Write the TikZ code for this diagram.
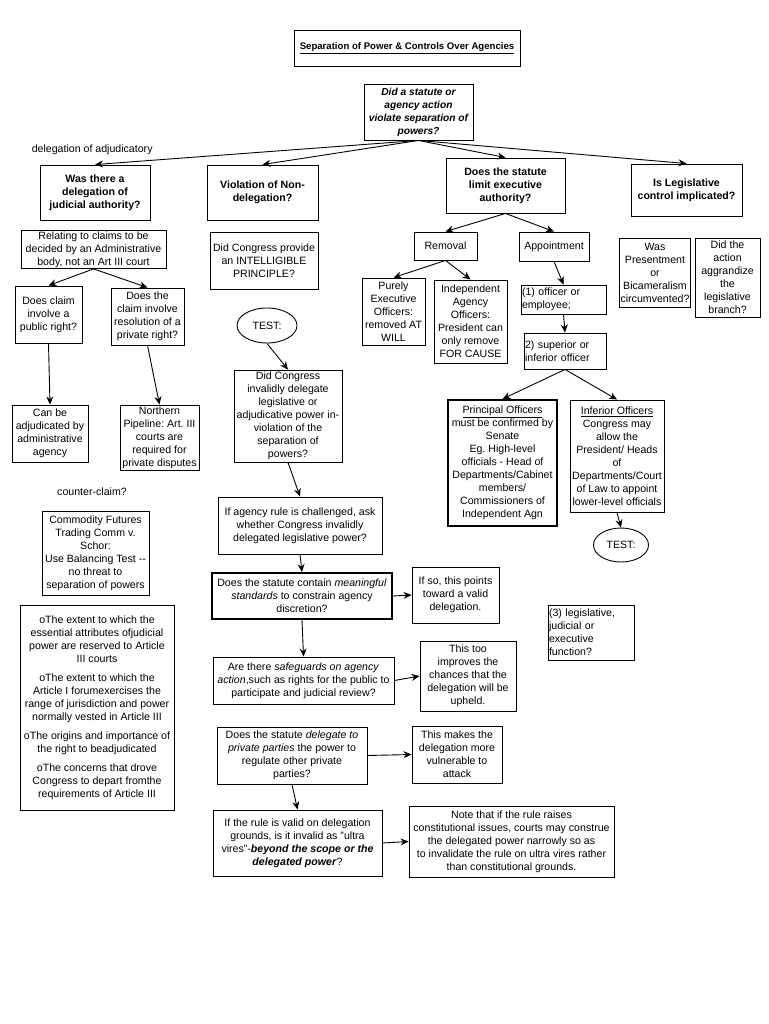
\documentclass[tikz,border=0pt]{standalone}
\usepackage{fontspec}
\setmainfont{Liberation Sans}
\usetikzlibrary{arrows.meta,shapes.geometric}
\frenchspacing
\begin{document}
\begin{tikzpicture}[x=1pt, y=-1pt, line width=0.9pt, >={Stealth[length=8pt,width=7pt]},
    every node/.style={font=\fontsize{10.6}{13}\selectfont},
    box/.style={draw, align=center, inner sep=1pt},
    lbox/.style={draw, align=left, inner sep=1pt},
    thickbox/.style={box, line width=2pt}]
    \fill[white] (0,0) rectangle (768,1024);
    \useasboundingbox (0,0) rectangle (768,1024);

    % 表題と最初の問い
    \node[box, minimum width=226pt, minimum height=36pt, font=\fontsize{9.6}{11}\selectfont\bfseries] (title) at (407,48) {\underline{Separation of Power \& Controls Over Agencies}};
    \node[box, minimum width=109pt, minimum height=56pt, font=\fontsize{10.2}{13}\selectfont\bfseries\itshape] (root) at (418.5,112) {Did a statute or\\agency action\\violate separation of\\powers?};
    \node[anchor=west] (adjtext) at (28,150) {delegation of adjudicatory};

    % 四つの問い
    \node[box, minimum width=110pt, minimum height=55pt, font=\fontsize{10.6}{13}\selectfont\bfseries] (qA) at (95,192.5) {Was there a\\delegation of\\judicial authority?};
    \node[box, minimum width=111pt, minimum height=55pt, font=\fontsize{10.6}{13}\selectfont\bfseries] (qB) at (262.5,192.5) {Violation of Non-\\delegation?};
    \node[box, minimum width=119pt, minimum height=55pt, font=\fontsize{10.6}{13}\selectfont\bfseries] (qC) at (505.5,185.5) {Does the statute\\limit executive\\authority?};
    \node[box, minimum width=111pt, minimum height=52pt, font=\fontsize{10.6}{13}\selectfont\bfseries] (qD) at (686.5,190) {Is Legislative\\control implicated?};

    \draw[->] (root.south) -- (qA.north);
    \draw[->] (root.south) -- (qB.north);
    \draw[->] (root.south) -- (qC.north);
    \draw[->] (root.south) -- (qD.north);

    % 司法権の委任
    \node[box, minimum width=145pt, minimum height=37pt] (relating) at (93.5,249.5) {Relating to claims to be\\decided by an Administrative\\body, not an Art III court};
    \node[box, minimum width=67pt, minimum height=57pt] (pubright) at (48.5,314.5) {Does claim\\involve a\\public right?};
    \node[box, minimum width=73pt, minimum height=57pt] (privright) at (147.5,316.5) {Does the\\claim involve\\resolution of a\\private right?};
    \node[box, minimum width=76pt, minimum height=57pt] (adjud) at (50,433.5) {Can be\\adjudicated by\\administrative\\agency};
    \node[box, minimum width=79pt, minimum height=65pt] (northern) at (159.5,437.5) {Northern\\Pipeline: Art. III\\courts are\\required for\\private disputes};
    \node (counter) at (92,492) {counter-claim?};
    \node[box, minimum width=107pt, minimum height=84pt] (schor) at (95.5,553) {Commodity Futures\\Trading Comm v.\\Schor:\\Use Balancing Test -{}-\\no threat to\\separation of powers};
    \node[box, minimum width=154pt, minimum height=205pt] (factors) at (97,707.5) {oThe extent to which the\\essential attributes ofjudicial\\power are reserved to Article\\III courts\\[6pt]oThe extent to which the\\Article I forumexercises the\\range of jurisdiction and power\\normally vested in Article III\\[6pt]oThe origins and importance of\\the right to beadjudicated\\[6pt]oThe concerns that drove\\Congress to depart fromthe\\requirements of Article III};

    \draw[->] (relating.south) -- (pubright.north);
    \draw[->] (relating.south) -- (privright.north);
    \draw[->] (pubright.south) -- (adjud.north);
    \draw[->] (privright.south) -- (northern.north);

    % 委任禁止の法理
    \node[box, minimum width=108pt, minimum height=57pt] (intell) at (264,260.5) {Did Congress provide\\an INTELLIGIBLE\\PRINCIPLE?};
    \node[draw, ellipse, minimum width=60pt, minimum height=35pt, inner sep=0pt] (testA) at (267,325.5) {TEST:};
    \node[box, minimum width=108pt, minimum height=92pt] (invalid) at (288,416) {Did Congress\\invalidly delegate\\legislative or\\adjudicative power in-\\violation of the\\separation of\\powers?};
    \node[box, minimum width=164pt, minimum height=57pt] (challenged) at (300,525.5) {If agency rule is challenged, ask\\whether Congress invalidly\\delegated legislative power?};
    \node[thickbox, minimum width=180pt, minimum height=46pt] (meaningful) at (302,596) {Does the statute contain \textit{meaningful}\\\textit{standards} to constrain agency\\discretion?};
    \node[box, minimum width=87pt, minimum height=56pt] (valid) at (455.5,595) {If so, this points\\toward a valid\\delegation.};
    \node[box, minimum width=181pt, minimum height=47pt] (safeguards) at (303.5,680.5) {Are there \textit{safeguards on agency}\\\textit{action},such as rights for the public to\\participate and judicial review?};
    \node[box, minimum width=96pt, minimum height=70pt] (toohelps) at (468,676) {This too\\improves the\\chances that the\\delegation will be\\upheld.};
    \node[box, minimum width=150pt, minimum height=57pt] (private) at (292,755.5) {Does the statute \textit{delegate to}\\\textit{private parties} the power to\\regulate other private\\parties?};
    \node[box, minimum width=90pt, minimum height=57pt] (vulnerable) at (457,754.5) {This makes the\\delegation more\\vulnerable to\\attack};
    \node[box, minimum width=169pt, minimum height=66pt] (ultravires) at (297.5,843) {If the rule is valid on delegation\\grounds, is it invalid as "ultra\\vires"-\textbf{\textit{beyond the scope or the}}\\\textbf{\textit{delegated power}}?};
    \node[box, minimum width=205pt, minimum height=71pt] (note) at (511.5,841.5) {Note that if the rule raises\\constitutional issues, courts may construe\\the delegated power narrowly so as\\to invalidate the rule on ultra vires rather\\than constitutional grounds.};

    \draw[->] (testA.south) -- (invalid.north);
    \draw[->] (invalid.south) -- (challenged.north);
    \draw[->] (challenged.south) -- (meaningful.north);
    \draw[->] (meaningful.east) -- (valid.west);
    \draw[->] (meaningful.south) -- (safeguards.north);
    \draw[->] (safeguards.east) -- (toohelps.west);
    \draw[->] (private.east) -- (vulnerable.west);
    \draw[->] (private.south) -- (ultravires.north);
    \draw[->] (ultravires.east) -- (note.west);

    % 行政権の制限
    \node[box, minimum width=63pt, minimum height=28pt] (removal) at (445.5,246) {Removal};
    \node[box, minimum width=70pt, minimum height=29pt] (appoint) at (554,246.5) {Appointment};
    \node[box, minimum width=63pt, minimum height=67pt] (purely) at (393.5,311.5) {Purely\\Executive\\Officers:\\removed AT\\WILL};
    \node[box, minimum width=73pt, minimum height=83pt] (indep) at (470.5,321.5) {Independent\\Agency\\Officers:\\President can\\only remove\\FOR CAUSE};
    \node[lbox, text width=83pt, minimum height=29pt] (officer) at (563.5,299.5) {(1) officer or\\employee;};
    \node[lbox, text width=80pt, minimum height=36pt] (superior) at (565,351) {2) superior or\\inferior officer};
    \node[thickbox, minimum width=109pt, minimum height=126pt] (principal) at (502.5,463) {\underline{Principal Officers}\\must be confirmed by\\Senate\\Eg. High-level\\officials - Head of\\Departments/Cabinet\\members/\\Commissioners of\\Independent Agn};
    \node[box, minimum width=94pt, minimum height=112pt] (inferior) at (617,456) {\underline{Inferior Officers}\\Congress may\\allow the\\President/ Heads\\of\\Departments/Court\\of Law to appoint\\lower-level officials};
    \node[draw, ellipse, minimum width=55pt, minimum height=34pt, inner sep=0pt] (testB) at (621,545) {TEST:};
    \node[lbox, text width=84pt, minimum height=55pt] (func) at (591,632.5) {(3) legislative,\\judicial or\\executive\\function?};

    \draw[->] (qC.south) -- (removal.north);
    \draw[->] (qC.south) -- (appoint.north);
    \draw[->] (removal.south) -- (purely.north);
    \draw[->] (removal.south) -- (indep.north);
    \draw[->] (appoint.south) -- (officer.north);
    \draw[->] (officer.south) -- (superior.north);
    \draw[->] (superior.south) -- (principal.north);
    \draw[->] (superior.south) -- (inferior.north);
    \draw[->] (inferior.south) -- (testB.north);

    % 立法府による統制
    \node[box, minimum width=70pt, minimum height=69pt] (present) at (655,272.5) {Was\\Presentment\\or\\Bicameralism\\circumvented?};
    \node[box, minimum width=65pt, minimum height=79pt] (aggr) at (727.5,277.5) {Did the\\action\\aggrandize\\the\\legislative\\branch?};
\end{tikzpicture}
\end{document}
